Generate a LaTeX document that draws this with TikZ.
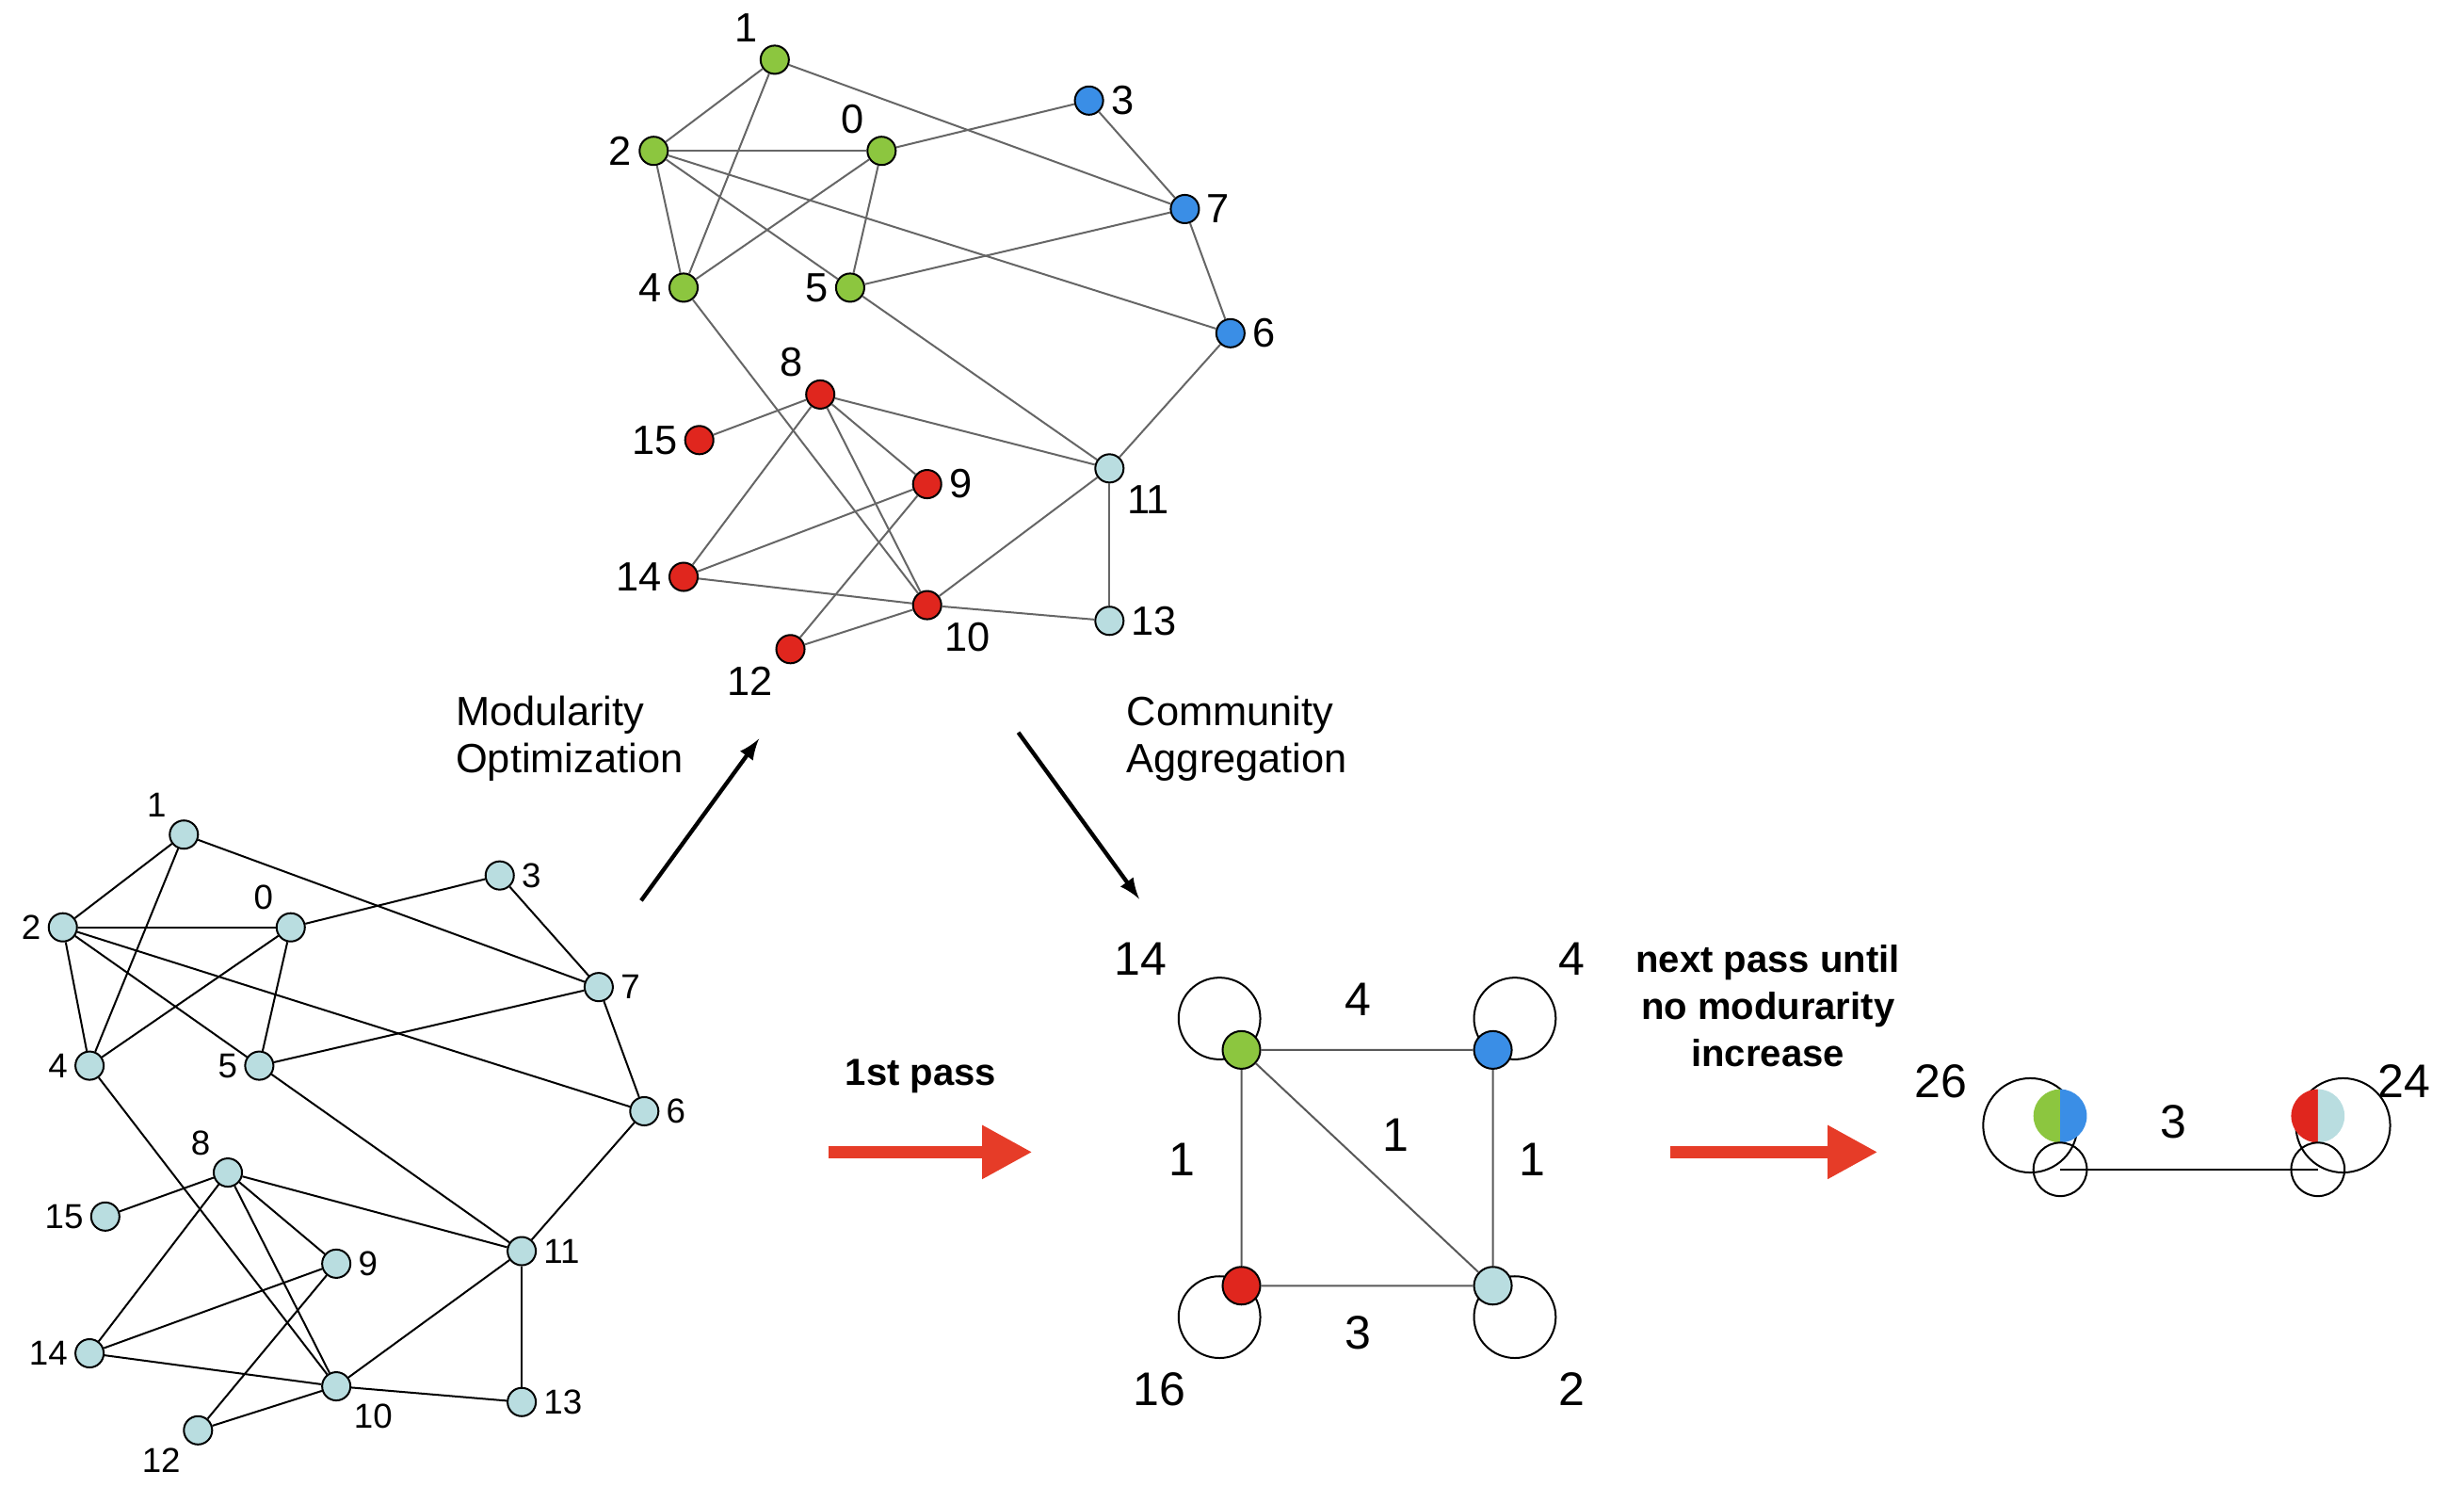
\documentclass[tikz,border=0pt]{standalone}
\usepackage{fontspec}
\setmainfont{Liberation Sans}
\usetikzlibrary{arrows.meta}
\definecolor{cg}{RGB}{140,198,63}
\definecolor{cb}{RGB}{58,142,230}
\definecolor{cr}{RGB}{224,38,30}
\definecolor{cl}{RGB}{185,221,224}
\definecolor{ca}{RGB}{230,60,40}
\begin{document}
\begin{tikzpicture}[x=0.5pt,y=-0.5pt,
 v/.style={circle,draw=black,line width=0.6pt,minimum size=9pt,inner sep=0pt},
 G/.style={v,fill=cg},
 B/.style={v,fill=cb},
 R/.style={v,fill=cr},
 L/.style={v,fill=cl},
 e/.style={line width=0.6pt},
 lab/.style={font=\fontsize{11}{12}\selectfont},
 big/.style={font=\fontsize{15}{16}\selectfont},
 txt/.style={font=\fontsize{13}{15}\selectfont,align=left},
 bt/.style={font=\bfseries\fontsize{12}{15}\selectfont,align=center},
 redarrow/.style={-{Triangle[length=16pt,width=16pt]},line width=4pt,color=ca}]
\useasboundingbox (0,0) rectangle (1568,946);
% top graph
\foreach \n/\x/\y/\s/\p in {1/493/38/G/above left,3/693/64/B/right,2/416/96/G/left,0/561/96/G/above left,7/754/133/B/right,4/435/183/G/left,5/541/183/G/left,6/783/212/B/right,8/522/251/R/above left,15/445/280/R/left,11/706/298/L/below right,9/590/308/R/right,14/435/367/R/left,10/590/385/R/below right,13/706/395/L/right,12/503/413/R/below left}
 \node[\s,label={[font=\fontsize{13}{14}\selectfont,inner sep=2pt]\p:\n}] (t\n) at (\x,\y) {};
% bottom graph
\foreach \n/\x/\y/\p in {1/117/531/above left,3/318/557/right,2/40/590/left,0/185/590/above left,7/381/628/right,4/57/678/left,5/165/678/left,6/410/707/right,8/145/746/above left,15/67/774/left,11/332/796/right,9/214/804/right,14/57/861/left,10/214/882/below right,13/332/892/right,12/126/910/below left}
 \node[L,label={[lab,inner sep=2pt]\p:\n}] (b\n) at (\x,\y) {};
\foreach \a/\b in {1/2,1/4,1/7,2/0,2/4,2/5,2/6,0/4,0/5,0/3,3/7,7/5,7/6,4/10,5/11,6/11,8/15,8/9,8/10,8/14,8/11,9/14,9/12,14/10,10/12,10/11,10/13,11/13}{
 \draw[e,gray!80!black] (t\a) -- (t\b);
 \draw[e] (b\a) -- (b\b);}
% texts and arrows
\node[txt,anchor=west] (mo) at (283,470) {Modularity\\Optimization};
\node[txt,anchor=west] (cag) at (710,470) {Community\\Aggregation};
\coordinate (a1s) at (408,573); \coordinate (a1e) at (483,470);
\coordinate (a2s) at (648,466); \coordinate (a2e) at (725,572);
\draw[-latex,line width=1.3pt] (a1s) -- (a1e);
\draw[-latex,line width=1.3pt] (a2s) -- (a2e);
\node[bt] (fp) at (586,685) {1st pass};
\coordinate (r1s) at (527,733); \coordinate (r1e) at (657,733);
\draw[redarrow] (r1s) -- (r1e);
\node[bt] (np) at (1125,640) {next pass until\\no modurarity\\increase};
\coordinate (r2s) at (1063,733); \coordinate (r2e) at (1195,733);
\draw[redarrow] (r2s) -- (r2e);
% middle graph
\draw[e] (776,648) circle (26);
\draw[e] (964,648) circle (26);
\draw[e] (776,838) circle (26);
\draw[e] (964,838) circle (26);
\node[G,minimum size=12pt] (mg) at (790,668) {};
\node[B,minimum size=12pt] (mb) at (950,668) {};
\node[R,minimum size=12pt] (mr) at (790,818) {};
\node[L,minimum size=12pt] (ml) at (950,818) {};
\draw[e,gray!70!black] (mg) -- (mb) (mg) -- (mr) (mg) -- (ml) (mb) -- (ml) (mr) -- (ml);
\foreach \t/\x/\y in {14/726/610,4/864/636,4/1000/610,1/752/738,1/888/722,1/975/738,16/738/884,3/864/848,2/1000/884}
 \node[big] at (\x,\y) {\t};
% right graph
\draw[e] (1292,716) circle (30);
\draw[e] (1491,716) circle (30);
\coordinate (rl) at (1311,744); \coordinate (rr) at (1475,744);
\draw[e] (rl) -- (rr);
\fill[cg] (rl) ++(0,-17) arc (90:270:17) -- cycle;
\fill[cb] (rl) ++(0,-17) arc (90:-90:17) -- cycle;
\draw[e] (rl) circle (17);
\fill[cr] (rr) ++(0,-17) arc (90:270:17) -- cycle;
\fill[cl] (rr) ++(0,-17) arc (90:-90:17) -- cycle;
\draw[e] (rr) circle (17);
\node[big] at (1235,688) {26};
\node[big] at (1383,714) {3};
\node[big] at (1530,688) {24};
\end{tikzpicture}
\end{document}
